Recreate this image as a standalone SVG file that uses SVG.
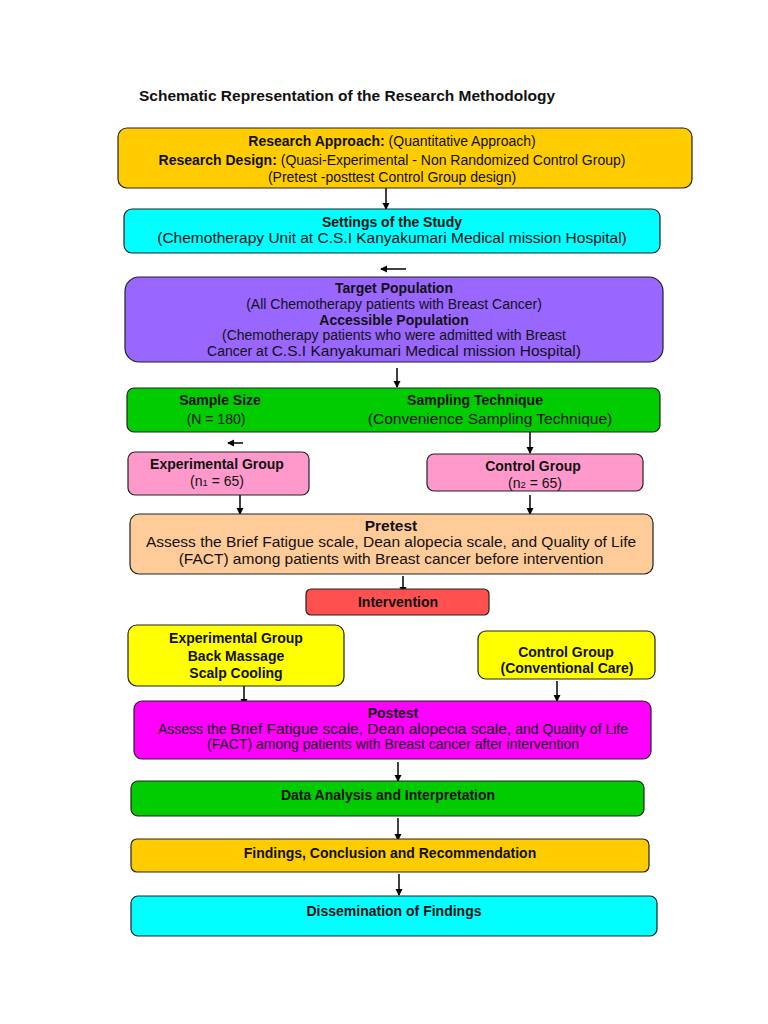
<svg xmlns="http://www.w3.org/2000/svg" width="768" height="1024" viewBox="0 0 768 1024">
<style>
text{font-family:"Liberation Sans",Arial,sans-serif;fill:#111;text-anchor:middle}
.b{font-weight:bold;font-size:14px}
.n{font-size:14px}
.l{font-size:15.5px}
.box{stroke:#222;stroke-width:1.2}
.c{stroke:#000;stroke-width:1.5;fill:none}
</style>
<defs>
<marker id="ah" markerWidth="8" markerHeight="8" refX="6" refY="4" orient="auto" markerUnits="userSpaceOnUse">
<path d="M0,0.5 L7,4 L0,7.5 Z" fill="#000"/>
</marker>
</defs>
<rect width="768" height="1024" fill="#fff"/>
<text x="139" y="101" style="text-anchor:start;font-weight:bold;font-size:15.5px">Schematic Representation of the Research Methodology</text>

<g id="connectors">
<line class="c" x1="386" y1="188" x2="386" y2="209" marker-end="url(#ah)"/>
<line class="c" x1="406" y1="269" x2="381" y2="269" marker-end="url(#ah)"/>
<line class="c" x1="397" y1="368" x2="397" y2="387" marker-end="url(#ah)"/>
<line class="c" x1="243" y1="443" x2="228" y2="443" marker-end="url(#ah)"/>
<line class="c" x1="530" y1="432" x2="530" y2="453" marker-end="url(#ah)"/>
<line class="c" x1="240" y1="495" x2="240" y2="514" marker-end="url(#ah)"/>
<line class="c" x1="530" y1="495" x2="530" y2="514" marker-end="url(#ah)"/>
<line class="c" x1="403" y1="576" x2="403" y2="593" marker-end="url(#ah)"/>
<line class="c" x1="244" y1="686" x2="244" y2="705" marker-end="url(#ah)"/>
<line class="c" x1="557" y1="681" x2="557" y2="701" marker-end="url(#ah)"/>
<line class="c" x1="398" y1="762" x2="398" y2="781" marker-end="url(#ah)"/>
<line class="c" x1="398" y1="818" x2="398" y2="840" marker-end="url(#ah)"/>
<line class="c" x1="399" y1="874" x2="399" y2="895" marker-end="url(#ah)"/>
</g>

<g id="approach">
<rect class="box" x="118" y="128" width="574" height="60" rx="9" fill="#FFCC00"/>
<text x="392" y="146" class="n"><tspan font-weight="bold">Research Approach:</tspan> (Quantitative Approach)</text>
<text x="392" y="165" class="n"><tspan font-weight="bold">Research Design:</tspan> (Quasi-Experimental - Non Randomized Control Group)</text>
<text x="392" y="182" class="n">(Pretest -posttest Control Group design)</text>
</g>

<g id="settings">
<rect class="box" x="124" y="209" width="536" height="44" rx="8" fill="#00FFFF"/>
<text x="392" y="227" class="b">Settings of the Study</text>
<text x="392" y="243" class="l">(Chemotherapy Unit at C.S.I Kanyakumari Medical mission Hospital)</text>
</g>

<g id="population">
<rect class="box" x="125" y="277" width="538" height="85" rx="14" fill="#9966FF"/>
<text x="394" y="293" class="b">Target Population</text>
<text x="394" y="309" class="n">(All Chemotherapy patients with Breast Cancer)</text>
<text x="394" y="325" class="b">Accessible Population</text>
<text x="394" y="340" class="n">(Chemotherapy patients who were admitted with Breast</text>
<text x="394" y="356" class="n">Cancer at <tspan class="l">C.S.I Kanyakumari Medical mission Hospital)</tspan></text>
</g>

<g id="sample">
<rect class="box" x="127" y="388" width="533" height="44" rx="7" fill="#00CC00"/>
<text x="220" y="405" class="b">Sample Size</text>
<text x="216" y="424" class="n">(N = 180)</text>
<text x="475" y="405" class="b">Sampling Technique</text>
<text x="490" y="424" class="l">(Convenience Sampling Technique)</text>
</g>

<g id="exp-group">
<rect class="box" x="128" y="452" width="181" height="43" rx="7" fill="#FF99CC"/>
<text x="217" y="469" class="b">Experimental Group</text>
<text x="217" y="486" class="n">(n<tspan font-size="9.5">1</tspan> = 65)</text>
</g>

<g id="ctrl-group">
<rect class="box" x="427" y="454" width="216" height="37" rx="7" fill="#FF99CC"/>
<text x="533" y="471" class="b">Control Group</text>
<text x="535" y="488" class="n">(n<tspan font-size="9.5">2</tspan> = 65)</text>
</g>

<g id="pretest">
<rect class="box" x="130" y="514" width="523" height="60" rx="9" fill="#FFCC99"/>
<text x="391" y="531" style="font-weight:bold;font-size:15.5px">Pretest</text>
<text x="391" y="547" class="l">Assess the Brief Fatigue scale, Dean alopecia scale, and Quality of Life</text>
<text x="391" y="564" class="l">(FACT) among patients with Breast  cancer before intervention</text>
</g>

<g id="intervention">
<rect class="box" x="306" y="589" width="183" height="26" rx="5" fill="#FF5050"/>
<text x="398" y="607" class="b">Intervention</text>
</g>

<g id="exp-int">
<rect class="box" x="128" y="625" width="216" height="61" rx="9" fill="#FFFF00"/>
<text x="236" y="643" class="b">Experimental Group</text>
<text x="236" y="661" class="b">Back Massage</text>
<text x="236" y="678" class="b">Scalp Cooling</text>
</g>

<g id="ctrl-int">
<rect class="box" x="478" y="631" width="177" height="48" rx="8" fill="#FFFF00"/>
<text x="566" y="657" class="b">Control Group</text>
<text x="567" y="673" class="b">(Conventional Care)</text>
</g>

<g id="posttest">
<rect class="box" x="134" y="701" width="517" height="58" rx="8" fill="#FF00FF"/>
<text x="393" y="718" class="b">Postest</text>
<text x="393" y="734" class="n">Assess the  <tspan class="l">Brief Fatigue scale, Dean alopecia scale,</tspan> and Quality of Life</text>
<text x="393" y="749" class="n">(FACT) among patients with Breast cancer after intervention</text>
</g>

<g id="analysis">
<rect class="box" x="131" y="781" width="513" height="35" rx="7" fill="#00CC00"/>
<text x="388" y="800" class="b">Data Analysis and Interpretation</text>
</g>

<g id="findings">
<rect class="box" x="131" y="839" width="518" height="33" rx="6" fill="#FFCC00"/>
<text x="390" y="858" class="b">Findings, Conclusion and Recommendation</text>
</g>

<g id="dissemination">
<rect class="box" x="131" y="896" width="526" height="40" rx="7" fill="#00FFFF"/>
<text x="394" y="916" class="b">Dissemination of Findings</text>
</g>
</svg>
